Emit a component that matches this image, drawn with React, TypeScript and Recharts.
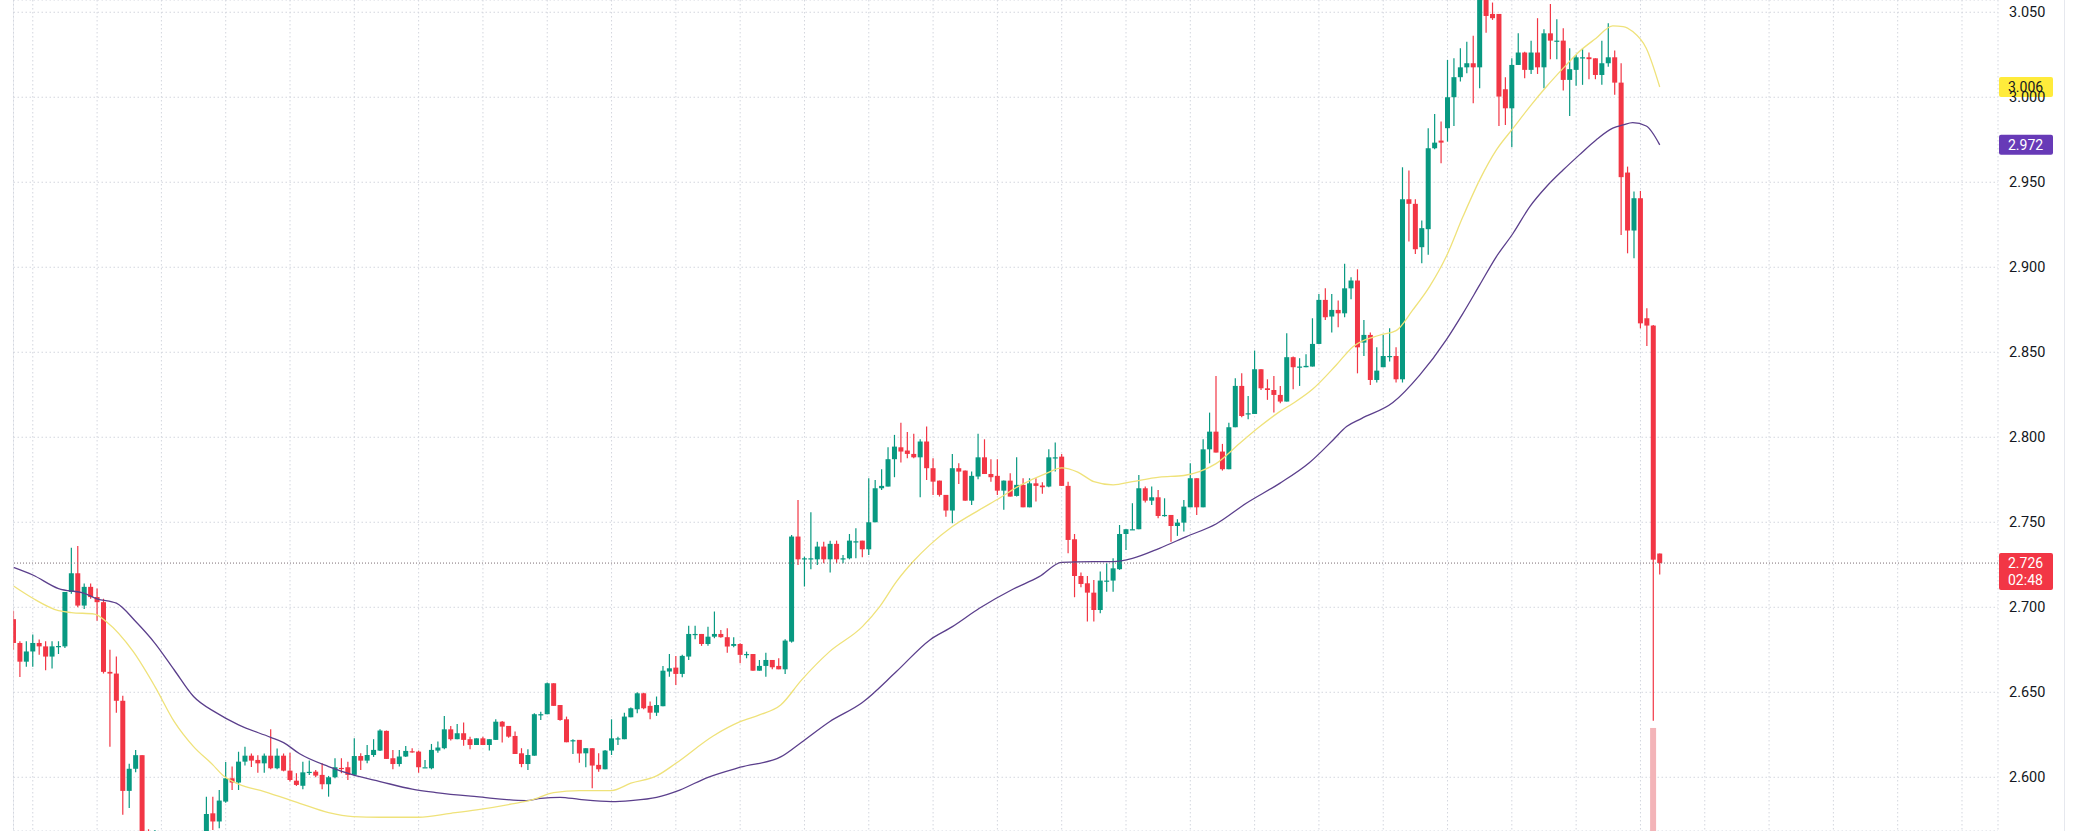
import React from "react";
import { ComposedChart, Bar, Line, XAxis, YAxis, CartesianGrid, ReferenceLine } from "recharts";

// candle OHLC, one entry per bar, left to right
const opens = [
  2.693, 2.679, 2.668, 2.674, 2.679, 2.677, 2.671, 2.677, 2.677, 2.709,
  2.72, 2.701, 2.712, 2.706, 2.703, 2.662, 2.661, 2.645, 2.592, 2.605,
  2.613, 2.552, 2.545, 2.556, 2.541, 2.53, 2.536, 2.533, 2.545, 2.55,
  2.558, 2.5788, 2.574, 2.5857, 2.5994, 2.5969, 2.6092, 2.6127, 2.6102, 2.6082,
  2.6127, 2.6053, 2.6127, 2.6039, 2.598, 2.595, 2.603, 2.6033, 2.6014, 2.5959,
  2.6, 2.6055, 2.6059, 2.6014, 2.6125, 2.6098, 2.6131, 2.6157, 2.6273, 2.6112,
  2.6078, 2.6122, 2.6153, 2.6151, 2.6059, 2.6053, 2.6157, 2.6171, 2.6282, 2.6224,
  2.6259, 2.6224, 2.619, 2.6229, 2.619, 2.622, 2.6327, 2.6302, 2.6243, 2.6141,
  2.6078, 2.6127, 2.6371, 2.6371, 2.6553, 2.6425, 2.6341, 2.6218, 2.622, 2.6141,
  2.6171, 2.6073, 2.6047, 2.6157, 2.6229, 2.6224, 2.6353, 2.64, 2.6494, 2.642,
  2.638, 2.6418, 2.6622, 2.6645, 2.6608, 2.671, 2.6843, 2.6843, 2.6784, 2.6827,
  2.6843, 2.6824, 2.6773, 2.6784, 2.6725, 2.6725, 2.6627, 2.6655, 2.669, 2.6655,
  2.6635, 2.6798, 2.7416, 2.7288, 2.7286, 2.7282, 2.7357, 2.7282, 2.7373, 2.7288,
  2.7288, 2.7388, 2.7392, 2.7341, 2.75, 2.77, 2.771, 2.7871, 2.7941, 2.7922,
  2.7902, 2.7882, 2.7975, 2.7818, 2.7745, 2.7661, 2.7569, 2.7818, 2.7804, 2.7627,
  2.7769, 2.7882, 2.7784, 2.7773, 2.7686, 2.7745, 2.7655, 2.772, 2.7588, 2.7729,
  2.7716, 2.771, 2.7882, 2.7886, 2.7714, 2.74, 2.7184, 2.7141, 2.7086, 2.6984,
  2.7157, 2.7157, 2.7224, 2.7431, 2.7459, 2.7459, 2.77, 2.7627, 2.7647, 2.7543,
  2.7543, 2.7478, 2.7498, 2.7588, 2.7759, 2.7588, 2.7929, 2.8033, 2.7916, 2.7812,
  2.8059, 2.8302, 2.8141, 2.8137, 2.84, 2.8288, 2.8278, 2.8249, 2.821, 2.8471,
  2.8416, 2.8412, 2.8416, 2.8549, 2.8808, 2.871, 2.8749, 2.8729, 2.8876, 2.8922,
  2.8557, 2.8602, 2.8337, 2.8412, 2.8478, 2.8478, 2.8341, 2.94, 2.9373, 2.9118,
  2.9224, 2.97, 2.9745, 2.9818, 3.0, 3.0118, 3.0176, 3.02, 3.0176, 3.062,
  3.049, 3.049, 3.0047, 2.9935, 3.019, 3.0263, 3.0161, 3.0263, 3.0176, 3.0376,
  3.0333, 3.0333, 3.0102, 3.0161, 3.0235, 3.0235, 3.0229, 3.0131, 3.02, 3.0235,
  3.0086, 2.9557, 2.9216, 2.9406, 2.87, 2.8657, 2.7316,
];
const highs = [
  2.698, 2.68, 2.68, 2.684, 2.681, 2.68, 2.68, 2.68, 2.709, 2.735,
  2.736, 2.714, 2.714, 2.711, 2.705, 2.675, 2.671, 2.648, 2.608, 2.616,
  2.613, 2.5695, 2.569, 2.562, 2.548, 2.54, 2.545, 2.548, 2.556, 2.562,
  2.5886, 2.5886, 2.5925, 2.609, 2.6063, 2.615, 2.618, 2.614, 2.613, 2.614,
  2.6282, 2.617, 2.614, 2.6145, 2.6024, 2.6092, 2.6098, 2.6043, 2.6082, 2.6008,
  2.6112, 2.6112, 2.6092, 2.6229, 2.6141, 2.619, 2.6224, 2.6282, 2.6275, 2.6161,
  2.6161, 2.6184, 2.6171, 2.6157, 2.6102, 2.6196, 2.621, 2.6361, 2.6302, 2.6314,
  2.6322, 2.6239, 2.6229, 2.6239, 2.6224, 2.6341, 2.6331, 2.6302, 2.6269, 2.6171,
  2.6165, 2.6376, 2.6386, 2.6557, 2.6553, 2.6425, 2.6357, 2.6224, 2.622, 2.6171,
  2.6171, 2.6141, 2.6161, 2.6341, 2.6239, 2.638, 2.641, 2.65, 2.6497, 2.6445,
  2.6475, 2.6655, 2.6725, 2.6714, 2.672, 2.6892, 2.6892, 2.6843, 2.6886, 2.6975,
  2.6867, 2.6876, 2.6824, 2.6788, 2.6739, 2.6725, 2.669, 2.6733, 2.669, 2.67,
  2.6812, 2.7425, 2.7631, 2.7298, 2.7559, 2.7386, 2.7386, 2.7392, 2.7392, 2.7308,
  2.7431, 2.7465, 2.7392, 2.7759, 2.7749, 2.7812, 2.7941, 2.8014, 2.8086, 2.8031,
  2.802, 2.7988, 2.8063, 2.7876, 2.7745, 2.7661, 2.7902, 2.7847, 2.7804, 2.7798,
  2.802, 2.7988, 2.7871, 2.7871, 2.7745, 2.7788, 2.7882, 2.7759, 2.7759, 2.7759,
  2.7735, 2.7929, 2.7969, 2.7902, 2.7739, 2.7431, 2.7204, 2.7184, 2.7161, 2.721,
  2.7259, 2.7288, 2.7484, 2.7459, 2.7612, 2.7778, 2.771, 2.771, 2.769, 2.7641,
  2.7543, 2.7518, 2.7631, 2.7847, 2.7759, 2.7988, 2.8145, 2.8361, 2.7961, 2.8086,
  2.8347, 2.8376, 2.8243, 2.851, 2.84, 2.8341, 2.8361, 2.8302, 2.8612, 2.8475,
  2.8465, 2.8488, 2.87, 2.8843, 2.8876, 2.8843, 2.8804, 2.902, 2.8941, 2.8988,
  2.869, 2.8616, 2.8529, 2.8602, 2.8641, 2.8529, 2.9588, 2.9569, 2.94, 2.9275,
  2.9818, 2.9902, 2.9857, 3.022, 3.0229, 3.0288, 3.0327, 3.0361, 3.065, 3.066,
  3.0557, 3.049, 3.0118, 3.0229, 3.0376, 3.0267, 3.0333, 3.0465, 3.04, 3.0549,
  3.0459, 3.0406, 3.0288, 3.0249, 3.0288, 3.0263, 3.0229, 3.0333, 3.0435, 3.0275,
  3.02, 2.9592, 2.9445, 2.9449, 2.8759, 2.8661, 2.7316,
];
const lows = [
  2.675, 2.659, 2.665, 2.665, 2.672, 2.663, 2.664, 2.6725, 2.676, 2.708,
  2.7, 2.699, 2.705, 2.692, 2.661, 2.618, 2.638, 2.578, 2.582, 2.603,
  2.548, 2.54, 2.538, 2.535, 2.522, 2.52, 2.528, 2.527, 2.538, 2.544,
  2.552, 2.569, 2.57, 2.585, 2.5925, 2.5925, 2.607, 2.606, 2.6027, 2.6027,
  2.6047, 2.6047, 2.6035, 2.5975, 2.5949, 2.593, 2.6014, 2.6, 2.593, 2.5886,
  2.5994, 2.6024, 2.5984, 2.6008, 2.6043, 2.6083, 2.612, 2.6155, 2.6108, 2.6047,
  2.6063, 2.612, 2.6145, 2.6027, 2.6059, 2.6047, 2.6145, 2.6165, 2.6216, 2.6224,
  2.6186, 2.6165, 2.619, 2.619, 2.6157, 2.622, 2.6204, 2.6233, 2.6137, 2.6059,
  2.6043, 2.6127, 2.6337, 2.6371, 2.642, 2.6333, 2.6206, 2.6137, 2.6086, 2.6059,
  2.5935, 2.6033, 2.6047, 2.6131, 2.619, 2.6224, 2.6353, 2.6376, 2.64, 2.6341,
  2.6361, 2.6418, 2.6592, 2.6543, 2.6588, 2.669, 2.6812, 2.6773, 2.6773, 2.6818,
  2.682, 2.6733, 2.6765, 2.6671, 2.67, 2.6627, 2.6627, 2.6592, 2.6635, 2.6635,
  2.6608, 2.6792, 2.7249, 2.7122, 2.7224, 2.7249, 2.7259, 2.7204, 2.7259, 2.7259,
  2.7282, 2.7288, 2.7294, 2.7308, 2.75, 2.769, 2.771, 2.7765, 2.7851, 2.7876,
  2.7876, 2.7647, 2.7749, 2.7661, 2.7651, 2.7533, 2.7494, 2.7725, 2.7627, 2.7602,
  2.7753, 2.7784, 2.7739, 2.7661, 2.7573, 2.7651, 2.7651, 2.7588, 2.7588, 2.7622,
  2.7667, 2.7706, 2.7798, 2.7714, 2.7318, 2.7059, 2.7118, 2.6916, 2.6916, 2.6965,
  2.7092, 2.7092, 2.722, 2.7337, 2.7455, 2.7459, 2.7616, 2.7602, 2.7524, 2.7533,
  2.7386, 2.742, 2.7445, 2.7588, 2.7543, 2.7588, 2.7847, 2.791, 2.7804, 2.7812,
  2.8059, 2.8118, 2.8106, 2.8137, 2.8278, 2.822, 2.8145, 2.82, 2.821, 2.8282,
  2.8302, 2.8412, 2.8416, 2.8549, 2.869, 2.8616, 2.8647, 2.8706, 2.8812, 2.8376,
  2.8478, 2.8308, 2.8322, 2.8412, 2.8445, 2.8322, 2.8322, 2.9151, 2.9078, 2.9024,
  2.9073, 2.9694, 2.9612, 2.9739, 2.9831, 3.0092, 3.0141, 2.9965, 3.0053, 3.038,
  3.0455, 2.9831, 2.9837, 2.9706, 3.019, 3.0112, 3.0137, 3.0137, 3.0053, 3.0224,
  3.0224, 3.0039, 2.989, 3.0067, 3.0073, 3.0106, 3.0106, 3.0073, 3.018, 3.0014,
  2.919, 2.9082, 2.9053, 2.8641, 2.8537, 2.6332, 2.7193,
];
const closes = [
  2.679, 2.668, 2.674, 2.679, 2.677, 2.671, 2.677, 2.6772, 2.709, 2.72,
  2.701, 2.712, 2.706, 2.703, 2.662, 2.661, 2.645, 2.592, 2.605, 2.613,
  2.552, 2.545, 2.556, 2.541, 2.53, 2.536, 2.533, 2.545, 2.55, 2.558,
  2.5784, 2.574, 2.5863, 2.5994, 2.5969, 2.6092, 2.6127, 2.6098, 2.6082, 2.6127,
  2.6053, 2.6127, 2.6039, 2.5984, 2.5955, 2.6029, 2.6032, 2.601, 2.5959, 2.6,
  2.6059, 2.6053, 2.6014, 2.6125, 2.6098, 2.6131, 2.6161, 2.6275, 2.6108, 2.6078,
  2.6122, 2.6155, 2.6151, 2.6059, 2.6059, 2.6161, 2.6175, 2.6282, 2.6224, 2.6259,
  2.622, 2.619, 2.6229, 2.619, 2.6224, 2.6327, 2.6298, 2.6239, 2.6137, 2.6078,
  2.6131, 2.6371, 2.6371, 2.6553, 2.642, 2.6337, 2.6206, 2.6218, 2.614, 2.6171,
  2.6069, 2.6047, 2.6157, 2.6229, 2.6229, 2.6357, 2.6406, 2.6494, 2.6406, 2.638,
  2.6425, 2.6627, 2.6641, 2.6608, 2.6714, 2.6843, 2.6843, 2.6784, 2.6827, 2.6843,
  2.6824, 2.6769, 2.6784, 2.672, 2.6725, 2.6627, 2.6655, 2.669, 2.6647, 2.6635,
  2.6804, 2.7416, 2.7282, 2.7288, 2.7288, 2.7357, 2.7282, 2.7373, 2.7282, 2.7288,
  2.7392, 2.7388, 2.7341, 2.75, 2.77, 2.7714, 2.7871, 2.7945, 2.7916, 2.7902,
  2.7882, 2.7975, 2.7818, 2.7739, 2.7661, 2.7569, 2.7818, 2.7798, 2.7627, 2.7773,
  2.7882, 2.7784, 2.7765, 2.7686, 2.7745, 2.7651, 2.772, 2.7588, 2.7729, 2.7714,
  2.7706, 2.7882, 2.7882, 2.7714, 2.7396, 2.7184, 2.7137, 2.7086, 2.6984, 2.7157,
  2.7157, 2.7229, 2.7431, 2.7459, 2.7459, 2.77, 2.7627, 2.7647, 2.7537, 2.7543,
  2.7478, 2.7498, 2.7592, 2.7759, 2.7588, 2.7929, 2.8033, 2.791, 2.7812, 2.8059,
  2.8302, 2.8125, 2.8141, 2.84, 2.8288, 2.8278, 2.8249, 2.821, 2.8471, 2.8412,
  2.8416, 2.842, 2.8549, 2.8808, 2.8706, 2.8749, 2.8729, 2.8876, 2.8922, 2.8529,
  2.8602, 2.8337, 2.8392, 2.8478, 2.8478, 2.8341, 2.94, 2.9373, 2.9106, 2.923,
  2.97, 2.9733, 2.9733, 3.0, 3.0118, 3.0176, 3.02, 3.0176, 3.062, 3.0478,
  3.0465, 3.0004, 2.9935, 3.019, 3.0263, 3.0161, 3.0263, 3.0176, 3.0376, 3.0333,
  3.0333, 3.0102, 3.0165, 3.0235, 3.0235, 3.0224, 3.0131, 3.02, 3.0235, 3.0086,
  2.953, 2.9216, 2.9406, 2.867, 2.8657, 2.728, 2.726,
];

// moving averages at these bar positions
const fastIdx = [
  0, 3, 7, 9, 12.6, 14.4, 18.6, 22, 25, 28, 31, 32.5, 35, 39, 44.5, 49, 52.8, 57, 63, 68,
  72, 77.5, 80.6, 84, 88, 93, 96, 100, 103, 108.8, 113, 116, 119.3, 122.5, 126.9, 132,
  134.7, 137.3, 139.9, 142.5, 146, 150.2, 153.3, 156.4, 160.6, 163, 165.5, 168, 171, 174,
  178.2, 182, 184.4, 187, 190.7, 193.8, 196.9, 199, 202, 205.7, 208.3, 212.4, 215, 217.6,
  220.2, 222.8, 225.4, 228, 230.6, 233.2, 235.8, 238.4, 241, 243.5, 246.1, 248.7, 250.3,
  251.8, 253.9, 256,
];
const fastVal = [
  2.7125, 2.7053, 2.698, 2.6969, 2.696, 2.6916, 2.674, 2.6533, 2.6327, 2.618, 2.6073, 2.6014,
  2.596, 2.5916, 2.5847, 2.5792, 2.5769, 2.5765, 2.5765, 2.5788, 2.5808, 2.5843, 2.5867,
  2.591, 2.5922, 2.5922, 2.5965, 2.6008, 2.6082, 2.6243, 2.6327, 2.6367, 2.6425, 2.657,
  2.6739, 2.6886, 2.7004, 2.7151, 2.7269, 2.7367, 2.7475, 2.7573, 2.7641, 2.7714, 2.7788,
  2.782, 2.7795, 2.7739, 2.772, 2.7739, 2.7765, 2.7775, 2.7798, 2.7845, 2.7965, 2.8063,
  2.8151, 2.82, 2.8282, 2.8425, 2.8533, 2.86, 2.8627, 2.8749, 2.8886, 2.9063, 2.9298,
  2.9514, 2.969, 2.9818, 2.9945, 3.0063, 3.0171, 3.0269, 3.0347, 3.042, 3.0416, 3.0386,
  3.0288, 3.006,
];
const slowIdx = [
  0, 3, 7, 11, 13, 16, 19, 22, 25, 28, 31.5, 35, 40, 42, 44.5, 49, 52.8, 57, 62, 65.7,
  72, 79.7, 82, 85, 88, 93, 96, 100, 103.6, 108, 113, 119.3, 122.5, 126.9, 132, 137.3,
  142.5, 146, 150.2, 155.4, 159.5, 163, 168, 171, 174, 178.2, 182.4, 187, 191.7, 196.9,
  201.5, 205.2, 207.3, 209.6, 214.5, 218.7, 222.8, 225.4, 228, 230.6, 233.2, 235.8, 238.4,
  241, 243.5, 246.1, 248.7, 250.3, 251.8, 253.9, 256,
];
const slowVal = [
  2.7235, 2.719, 2.711, 2.7082, 2.705, 2.7024, 2.6916, 2.6788, 2.6631, 2.6475, 2.638,
  2.6308, 2.6235, 2.6204, 2.6138, 2.6063, 2.6014, 2.5975, 2.593, 2.591, 2.5886, 2.5863,
  2.5876, 2.5882, 2.587, 2.5857, 2.5863, 2.5882, 2.5925, 2.6, 2.6059, 2.612, 2.6205,
  2.6327, 2.644, 2.6622, 2.6808, 2.6886, 2.6994, 2.7106, 2.718, 2.7264, 2.7269, 2.7269,
  2.7288, 2.7347, 2.7416, 2.749, 2.7612, 2.7729, 2.785, 2.7984, 2.8063, 2.811, 2.8204,
  2.8367, 2.8573, 2.8729, 2.8896, 2.9063, 2.92, 2.9357, 2.9475, 2.9573, 2.9661, 2.9749,
  2.9818, 2.9837, 2.9851, 2.9831, 2.972,
];

// only the last big bar's volume reaches into the visible part of the pane
const volumeIdx = [255];
const volumeVal = [12.4];

const priceTicks = [2.6, 2.65, 2.7, 2.75, 2.8, 2.85, 2.9, 2.95, 3.0, 3.05];
const timeTicks = [
  3, 13, 23, 33, 43, 53, 63, 73, 83, 93, 103, 113, 123, 133, 143, 153, 163, 173, 183, 193,
  203, 213, 223, 233, 243, 253, 263, 273, 283, 293, 303,
];
const countdown = "02:48";

const UP = "#089981";
const DOWN = "#f23645";
const BODY = 5;
const FONT = "Roboto, 'Noto Sans', sans-serif";
const X_DOMAIN: [number, number] = [0, 308.6];
const Y_DOMAIN: [number, number] = [2.5684, 3.0572];

const rows = opens.map((o, k) => {
  const v = volumeIdx.indexOf(k);
  return {
    i: k,
    o,
    h: highs[k],
    l: lows[k],
    c: closes[k],
    range: [lows[k], highs[k]],
    vol: v >= 0 ? volumeVal[v] : null,
  };
});
const fastRows = fastIdx.map((i, k) => ({ i, v: fastVal[k] }));
const slowRows = slowIdx.map((i, k) => ({ i, v: slowVal[k] }));

const lastClose = closes[closes.length - 1];
const lastFast = fastVal[fastVal.length - 1];
const lastSlow = slowVal[slowVal.length - 1];

function Candle(props: any) {
  let { x, y, width, height } = props;
  const { o, h, l, c } = props.payload;
  if (height < 0) {
    y += height;
    height = -height;
  }
  const color = c >= o ? UP : DOWN;
  const cx = x + width / 2;
  const k = h !== l ? height / (h - l) : 0;
  const yOf = (v: number) => y + (h - v) * k;
  const top = yOf(Math.max(o, c));
  const bot = yOf(Math.min(o, c));
  return (
    <g>
      <line x1={cx} x2={cx} y1={y} y2={y + height} stroke={color} strokeWidth={1.2} />
      <rect x={cx - BODY / 2} y={top} width={BODY} height={Math.max(1.2, bot - top)} fill={color} />
    </g>
  );
}

function Badge(props: any) {
  const { viewBox, text, sub, bg, fg } = props;
  if (!viewBox) return null;
  const x0 = viewBox.x + viewBox.width + 1;
  const top = viewBox.y - 10;
  const h = sub ? 37 : 20;
  return (
    <g>
      <rect x={x0} y={top} width={54} height={h} rx={2} fill={bg} />
      <text x={x0 + 9} y={top + 15} fill={fg} fontSize={14} fontFamily={FONT}>
        {text}
      </text>
      {sub ? (
        <text x={x0 + 9} y={top + 32} fill={fg} fontSize={14} fontFamily={FONT}>
          {sub}
        </text>
      ) : null}
    </g>
  );
}

export default function App() {
  return (
    <div style={{ position: "absolute", left: 0, top: 0, width: 2078, height: 831, background: "#fff", overflow: "hidden" }}>
      <div style={{ position: "absolute", left: 13, top: 0, width: 1, height: 831, background: "#eceef2" }} />
      <div style={{ position: "absolute", left: 2064, top: 0, width: 1, height: 831, background: "#e6e8ee" }} />
      <ComposedChart
        width={2065}
        height={831}
        data={rows}
        margin={{ top: 0, right: 0, bottom: 0, left: 13.5 }}
        style={{ position: "absolute", left: 0, top: 0 }}
      >
        <CartesianGrid stroke="#d3d6de" strokeDasharray="1.5 2.5" />
        <XAxis dataKey="i" type="number" domain={X_DOMAIN} ticks={timeTicks} allowDataOverflow hide />
        <XAxis xAxisId="v" dataKey="i" type="number" domain={X_DOMAIN} allowDataOverflow hide />
        <YAxis
          orientation="right"
          width={67}
          domain={Y_DOMAIN}
          ticks={priceTicks}
          interval={0}
          allowDataOverflow
          axisLine={false}
          tickLine={false}
          tickMargin={5}
          tickFormatter={(v: number) => v.toFixed(3)}
          tick={{ fontSize: 14.5, fill: "#131722", fontFamily: FONT }}
        />
        <YAxis yAxisId="v" domain={[0, 100]} hide />
        <Bar
          xAxisId="v"
          yAxisId="v"
          dataKey="vol"
          barSize={6}
          fill="#f3b4b8"
          isAnimationActive={false}
        />
        <Bar dataKey="range" barSize={5} shape={Candle} isAnimationActive={false} />
        <Line
          data={slowRows}
          dataKey="v"
          type="monotone"
          stroke="#5b3f8c"
          strokeWidth={1.3}
          dot={false}
          activeDot={false}
          isAnimationActive={false}
        />
        <Line
          data={fastRows}
          dataKey="v"
          type="monotone"
          stroke="#efe27a"
          strokeWidth={1.3}
          dot={false}
          activeDot={false}
          isAnimationActive={false}
        />
        <ReferenceLine y={lastClose} stroke="#7a6d74" strokeDasharray="1 2" />
        <ReferenceLine
          y={lastFast}
          stroke="transparent"
          label={<Badge text={lastFast.toFixed(3)} bg="#ffeb3b" fg="#131722" />}
        />
        <ReferenceLine
          y={lastSlow}
          stroke="transparent"
          label={<Badge text={lastSlow.toFixed(3)} bg="#673ab7" fg="#ffffff" />}
        />
        <ReferenceLine
          y={lastClose}
          stroke="transparent"
          label={<Badge text={lastClose.toFixed(3)} sub={countdown} bg="#f23645" fg="#ffffff" />}
        />
      </ComposedChart>
    </div>
  );
}
